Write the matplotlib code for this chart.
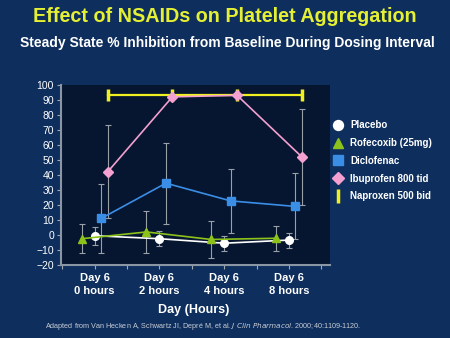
import matplotlib.pyplot as plt
import numpy as np

plt.rcParams['font.family'] = ['Liberation Sans', 'DejaVu Sans']

cats = ["Day 6\n0 hours", "Day 6\n2 hours", "Day 6\n4 hours", "Day 6\n8 hours"]

placebo = [-0.5, -2.5, -5.5, -3.4]
placebo_err = [6, 5, 5, 5]
rofecoxib = [-2.5, 2, -3, -2.2]
rofecoxib_err = [9.7, 14, 12.5, 8.5]
diclofenac = [11, 34.5, 22.7, 19]
diclofenac_err = [23, 27, 21.4, 22]
ibuprofen = [42, 92, 93, 52]
ibuprofen_err = [31, 0, 0, 32]
naproxen = [93, 93, 93, 93]

bg = '#0e2f5e'
fig = plt.figure(figsize=(4.5, 3.38), dpi=100, facecolor=bg)
ax = fig.add_axes([0.1356, 0.216, 0.597, 0.533])
ax.set_facecolor('#061631')

x = np.arange(4)
ecol = '#9aa0a8'

ax.errorbar(x - 0.2, rofecoxib, yerr=rofecoxib_err, fmt='none', ecolor=ecol, elinewidth=0.8, capsize=2, capthick=0.8, zorder=2)
ax.errorbar(x + 0.0, placebo, yerr=placebo_err, fmt='none', ecolor=ecol, elinewidth=0.8, capsize=2, capthick=0.8, zorder=2)
ax.errorbar(x + 0.1, diclofenac, yerr=diclofenac_err, fmt='none', ecolor=ecol, elinewidth=0.8, capsize=2, capthick=0.8, zorder=2)
ax.errorbar(x + 0.2, ibuprofen, yerr=ibuprofen_err, fmt='none', ecolor=ecol, elinewidth=0.8, capsize=2, capthick=0.8, zorder=2)

ax.plot(x + 0.0, placebo, color='white', marker='o', ms=5.5, lw=1.2, label='Placebo', zorder=4)
ax.plot(x - 0.2, rofecoxib, color='#8cc21a', marker='^', ms=6, lw=1.2, label='Rofecoxib (25mg)', zorder=4)
ax.plot(x + 0.1, diclofenac, color='#3a8ee6', marker='s', ms=5.5, lw=1.2, label='Diclofenac', zorder=4)
ax.plot(x + 0.2, naproxen, color='#f0f020', marker='|', ms=8, mew=2.5, lw=1.6, label='Naproxen 500 bid', zorder=3)
ax.plot(x + 0.2, ibuprofen, color='#f4a0d0', marker='D', ms=5, lw=1.2, label='Ibuprofen 800 tid', zorder=5)

ax.set_xlim(-0.52, 3.63)
ax.set_ylim(-20, 100)
ax.set_yticks(np.arange(-20, 101, 10))
ax.set_xticks(np.arange(-0.5, 3.6, 0.5))
ax.set_xticklabels([''] * 9)
for i, c in enumerate(cats):
    ax.text(i, -25.5, c, ha='center', va='top', color='white', fontsize=8, fontweight='bold', linespacing=1.35)

ax.tick_params(axis='y', colors='#a0a8b0', labelcolor='white', labelsize=7.5, length=3, pad=2)
ax.tick_params(axis='x', colors='#a0a8b0', length=3)
for s in ['top', 'right']:
    ax.spines[s].set_visible(False)
for s in ['left', 'bottom']:
    ax.spines[s].set_color('#8a96a4')
    ax.spines[s].set_linewidth(1.5)

h, l = ax.get_legend_handles_labels()
order = [0, 1, 2, 4, 3]
leg = fig.legend([h[i] for i in order], [l[i] for i in order], loc='upper left', bbox_to_anchor=(0.72, 0.67),
                 frameon=False, labelcolor='white', prop={'weight': 'bold', 'size': 7},
                 handlelength=1.0, handletextpad=0.8, labelspacing=0.8, markerscale=1.3)
for lh in leg.legend_handles:
    lh.set_linestyle('none')

fig.text(0.5, 0.95, 'Effect of NSAIDs on Platelet Aggregation', ha='center', va='center',
         color='#e6f032', fontsize=14.2, fontweight='bold')
fig.text(0.505, 0.873, 'Steady State % Inhibition from Baseline During Dosing Interval', ha='center', va='center',
         color='white', fontsize=10, fontweight='bold')
fig.text(0.43, 0.083, 'Day (Hours)', ha='center', va='center', color='white', fontsize=9, fontweight='bold')
fig.text(0.1, 0.033, 'Adapted from Van Hecken A, Schwartz JI, Depré M, et al. $\\it{J\\ Clin\\ Pharmacol}$. 2000;40:1109-1120.',
         ha='left', va='center', color='#c8ccd4', fontsize=5.2)

fig.savefig('out.png', dpi=100, facecolor=bg)
